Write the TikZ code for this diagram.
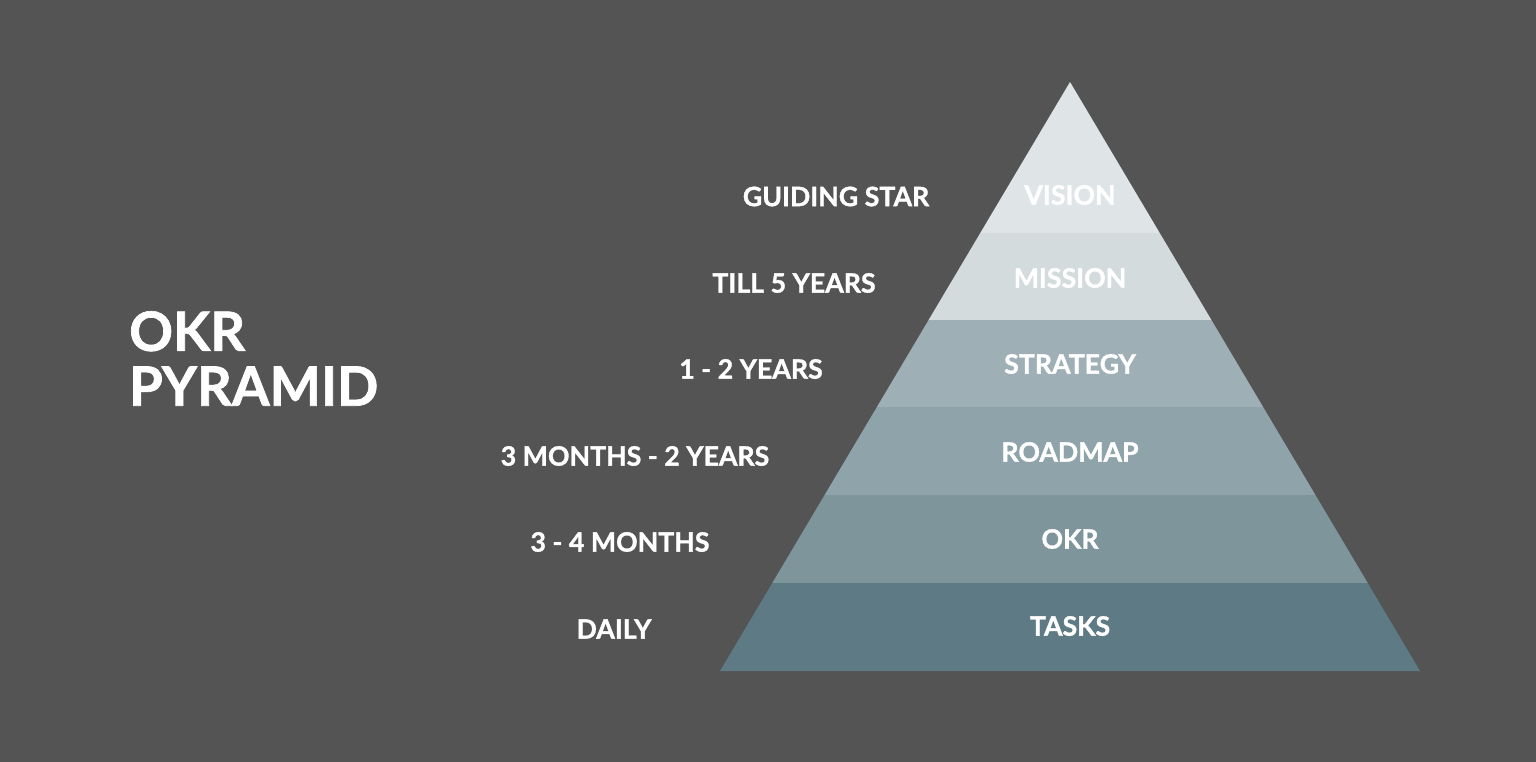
\documentclass[tikz,border=0pt]{standalone}
\usepackage{fontspec}
\setmainfont{Lato}[BoldFeatures={FakeBold=1.2}]
\definecolor{bgcol}{HTML}{545454}
\definecolor{cvision}{HTML}{DFE4E6}
\definecolor{cmission}{HTML}{D3DBDD}
\definecolor{cstrategy}{HTML}{9EAFB5}
\definecolor{croadmap}{HTML}{8FA3AA}
\definecolor{cokr}{HTML}{7E959C}
\definecolor{ctasks}{HTML}{5E7A84}
\begin{document}
\begin{tikzpicture}[x=1bp,y=-1bp,
  lbl/.style={inner sep=0pt, text=white, font=\bfseries\fontsize{26.8}{30}\selectfont},
  inlbl/.style={lbl},
  ttl/.style={inner sep=0pt, text=white, align=left, font=\bfseries\fontsize{54.5}{55}\selectfont}]
\fill[bgcol] (0,0) rectangle (1536,762);
\useasboundingbox (0,0) rectangle (1536,762);
\coordinate (apex) at (1070,82);
\coordinate (bl) at (720,671);
\coordinate (br) at (1420,671);
\begin{scope}
  \clip (apex) -- (bl) -- (br) -- cycle;
  \fill[cvision]   (700,80)  rectangle (1440,233);
  \fill[cmission]  (700,233) rectangle (1440,320);
  \fill[cstrategy] (700,320) rectangle (1440,407);
  \fill[croadmap]  (700,407) rectangle (1440,495);
  \fill[cokr]      (700,495) rectangle (1440,583);
  \fill[ctasks]    (700,583) rectangle (1440,672);
\end{scope}
\node[inlbl] (vision)   at (1070,195) {VISION};
\node[inlbl] (mission)  at (1070,278) {MISSION};
\node[inlbl] (strategy) at (1070,364) {STRATEGY};
\node[inlbl] (roadmap)  at (1070,452) {ROADMAP};
\node[inlbl] (okr)      at (1070,539) {OKR};
\node[inlbl] (tasks)    at (1070,626) {TASKS};
\node[lbl] (guiding) at (836,196.5) {GUIDING STAR};
\node[lbl] (till)    at (794,283) {TILL 5 YEARS};
\node[lbl] (oneTwo)  at (751,369) {1 - 2 YEARS};
\node[lbl] (threeM)  at (635,456) {3 MONTHS - 2 YEARS};
\node[lbl] (threeF)  at (620,542) {3 - 4 MONTHS};
\node[lbl] (daily)   at (614,629) {DAILY};
\node[ttl, anchor=north west] (title) at (129,311) {OKR\\PYRAMID};
\end{tikzpicture}
\end{document}
